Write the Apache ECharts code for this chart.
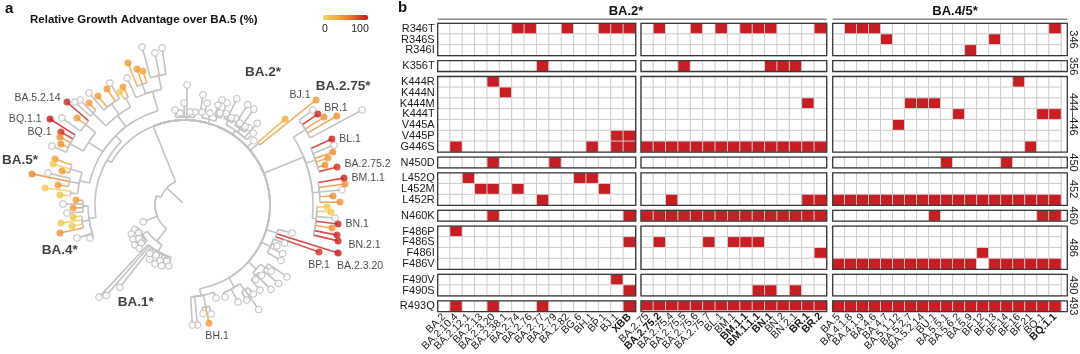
<!DOCTYPE html>
<html><head><meta charset="utf-8">
<script src="https://cdn.jsdelivr.net/npm/echarts@6/dist/echarts.min.js"></script>
<style>html,body{margin:0;padding:0;background:#fff}#c{width:1080px;height:354px}</style>
</head><body><div id="c"></div>
<script>
(function () {
const FONT = '"Liberation Sans", Arial, Helvetica, sans-serif';

// ================= Panel a : tree =================
// clades: [id, parent, angle(deg, ccw from east), radius]
const treeClades = [
  ['root', null, 137, 3],
  ['p1', 'root', 137, 25],
  ['ba2all', 'p1', 112, 85],
  ['p3', 'p1', 162, 30],
  ['ba1', 'p3', 232, 46],
  ['ba1a', 'ba1', 215, 52],
  ['ba1b', 'ba1', 240, 54],
  ['ba45', 'ba2all', 150, 90],
  ['ba5', 'ba45', 135, 98],
  ['ba4', 'ba45', 188, 97],
  ['a', 'ba5', 106, 118], ['a1', 'a', 101.5, 132], ['a2', 'a', 109.5, 128],
  ['b', 'ba5', 127, 112], ['b2', 'b', 119, 122], ['b1', 'b', 126, 125], ['b3', 'b', 135, 130],
  ['c', 'ba5', 147, 115], ['c1', 'c', 141, 128], ['c2', 'c', 152, 130],
  ['d', 'ba5', 167, 108], ['d1', 'd', 162.5, 120], ['d2', 'd', 168.5, 118], ['d3', 'd', 174, 115],
  ['e1', 'ba4', 180.5, 102], ['e2', 'ba4', 189, 104],
  ['t1', 'ba2all', 89, 88], ['t2', 'ba2all', 74, 89], ['t2a', 't2', 79, 95], ['t2b', 't2', 70, 94],
  ['t3', 'ba2all', 56, 90], ['t3a', 't3', 63, 95], ['t3b', 't3', 54, 94],
  ['xbb', 'ba2all', 40, 96],
  ['ba275', 'ba2all', 22, 128],
  ['s1', 'ba275', 32, 142], ['s2', 'ba275', 19, 138], ['s3', 'ba275', 5.5, 135], ['s4', 'ba275', -6, 132],
  ['bp', 'ba2all', -17, 96],
  ['q1', 'ba2all', -26, 95], ['q2', 'ba2all', -42, 96], ['q2a', 'q2', -38, 102], ['q2b', 'q2', -45, 100],
  ['q3', 'ba2all', -59, 96], ['q3a', 'q3', -55, 104],
  ['q4', 'ba2all', -80, 92], ['q4a', 'q4', -78.5, 104]
];
// tips: [parent, angle, radius, growth advantage (%) or null, label]
const treeTips = [
  ['p3', 202, 45, null],
  ['ba1a', 206, 56, null], ['ba1a', 208.5, 61, null], ['ba1a', 211, 54, null], ['ba1a', 213.5, 62, null],
  ['ba1a', 216, 57, null], ['ba1a', 218.5, 64, null], ['ba1a', 221, 58, null], ['ba1a', 223.5, 63, null],
  ['ba1b', 227, 126, null], ['ba1b', 229, 120, null], ['ba1b', 231.6, 105, null], ['ba1b', 234, 60, null],
  ['ba1b', 237, 65, null], ['ba1b', 240, 58, null], ['ba1b', 243, 66, null], ['ba1b', 246, 61, null],
  ['ba1b', 249, 65, null], ['ba1b', 252, 59, null], ['ba1b', 255, 63, null],
  ['a1', 98.3, 158.7, null], ['a1', 101.2, 155, null], ['a1', 105.2, 163.7, null],
  ['a2', 107.4, 140.4, 35], ['a2', 109.4, 144.2, 40], ['a2', 111.9, 153, 40],
  ['a', 114.5, 139.6, null],
  ['b2', 117.7, 133.3, 40], ['b2', 119.9, 130.4, 8],
  ['b1', 121.6, 143.2, null], ['b1', 123.9, 139.8, 40], ['b1', 128.6, 139.5, 40], ['b1', 130.6, 147.5, null],
  ['b3', 133.3, 140, 40], ['b3', 135, 148.5, null], ['b3', 136.9, 150.7, null],
  ['c1', 138.9, 156.6, 95, 'BA.5.2.14'], ['c1', 141.1, 138.7, 40], ['c1', 144.7, 150.7, null],
  ['c2', 147.5, 160, 100, 'BQ.1.1'], ['c2', 149.5, 143.9, 90, 'BQ.1'], ['c2', 151.5, 142.3, 45],
  ['c2', 153.8, 138.2, 45], ['c2', 156.1, 145.5, null],
  ['d1', 160.5, 137.9, 40], ['d1', 162.7, 138.2, 10], ['d1', 164.5, 127.6, 40],
  ['d2', 166.9, 140.7, null], ['d2', 168.5, 156.1, 50], ['d2', 171, 128.6, 40],
  ['d3', 173.1, 141, 10], ['d3', 175.4, 125.4, 10],
  ['e1', 177.4, 109.1, 40], ['e1', 179.5, 122, null], ['e1', 181.5, 112, 40], ['e1', 183.9, 118.3, null],
  ['e2', 186.1, 112.6, 10], ['e2', 188.3, 125.3, 10], ['e2', 190.5, 114.9, 10], ['e2', 192.6, 128.1, 45],
  ['ba4', 197, 112.9, null], ['ba4', 199.2, 100.6, null],
  ['t1', 83.9, 93.5, null], ['t1', 86.9, 93.1, null], ['t1', 89, 120, null], ['t1', 90.5, 102, null],
  ['t1', 93.1, 92.1, null], ['t1', 96, 95.5, null],
  ['t2a', 77.8, 104.3, null], ['t2a', 79.6, 94.5, null], ['t2a', 80.7, 111.5, null],
  ['t2', 74.8, 95.3, null],
  ['t2b', 67.6, 110.3, null], ['t2b', 69.2, 98.4, null], ['t2b', 70.6, 111.3, null], ['t2b', 71.7, 105.3, null],
  ['t3a', 59.8, 100.3, null], ['t3a', 62, 98.8, null], ['t3a', 64, 118.2, null], ['t3a', 65.8, 100.3, null],
  ['t3b', 50.5, 100.3, null], ['t3b', 52.5, 98.8, null], ['t3b', 54.3, 117.9, null], ['t3b', 56.2, 98.5, null], ['t3b', 58, 118.3, null],
  ['t3', 48.5, 109.1, null], ['t3', 46.5, 99, null],
  ['ba2all', 43, 94.2, null],
  ['xbb', 40.7, 132, 30], ['xbb', 38.7, 168, 40, 'BJ.1'],
  ['s1', 28.2, 201, null], ['s1', 30.4, 176, 45], ['s1', 32.3, 164.5, 45], ['s1', 34.4, 161, 95, 'BR.1'], ['s1', 36.6, 159, null],
  ['s2', 14, 156.7, 90, 'BA.2.75.2'], ['s2', 15.9, 145.6, 45], ['s2', 18.2, 150.5, 40], ['s2', 19.7, 157, 45],
  ['s2', 21.9, 160.6, null], ['s2', 24.2, 161, 95, 'BL.1'],
  ['s3', 1.1, 155, 45], ['s3', 3.5, 148.3, 45], ['s3', 5.5, 157.7, null], ['s3', 7.5, 161.4, 45], ['s3', 9.6, 161.3, 95, 'BM.1.1'],
  ['s4', -13.2, 157.2, 95, 'BN.2.1'], ['s4', -11.2, 155, 95], ['s4', -8.9, 148.8, 45], ['s4', -7.1, 154.2, 95, 'BN.1'],
  ['s4', -5, 150.6, null], ['s4', -2.7, 146.2, 10], ['s4', -0.8, 142, 10],
  ['bp', -14.7, 110.6, null], ['bp', -17.4, 160.4, 100, 'BA.2.3.20'], ['bp', -19.3, 142, 90, 'BP.1'],
  ['q1', -21, 106.6, null], ['q1', -24, 100.6, null], ['q1', -26.5, 109, null], ['q1', -30, 110.8, null],
  ['q2a', -35.2, 124.8, null], ['q2a', -37.5, 108.6, null], ['q2a', -40, 122, null],
  ['q2b', -42.5, 104, null], ['q2b', -44.5, 120.3, null], ['q2b', -46.5, 102.6, null], ['q2b', -48.6, 113.4, null],
  ['q3a', -52.5, 112.2, null], ['q3a', -54.8, 127.9, null], ['q3a', -57, 113.4, null],
  ['q3', -61.3, 110.5, null], ['q3', -66.5, 100.3, null],
  ['q4', -71.5, 98, null],
  ['q4a', -76.5, 112, null], ['q4a', -78.5, 120.6, 40, 'BH.1'], ['q4a', -80.5, 110, null],
  ['q4', -84, 120.7, null], ['q4', -86.5, 120.3, null]
];
// clade names: [text, angle, radius]
const cladeLabels = [
  ['BA.5*', 164.8, 171], ['BA.4*', 199.8, 133], ['BA.1*', 243.2, 109],
  ['BA.2*', 59.6, 154], ['BA.2.75*', 37, 198]
];
const colorScaleTicks = ['0', '100'];

// ================= Panel b : mutation heatmap =================
const lineagesBA2 = ['BA.2','BA.2.10.4','BA.2.12.1','BA.2.13','BA.2.3.20','BA.2.38.1','BA.2.74','BA.2.76','BA.2.77','BA.2.79','BA.2.82','BG.6','BH.1','BP.1','BJ.1','XBB'];
const lineagesBA275 = ['BA.2.75','BA.2.75.2','BA.2.75.4','BA.2.75.5','BA.2.75.6','BA.2.75.7','BL.1','BM.1','BM.1.1','BM.1.1.1','BN.1','BN.2','BN.2.1','BR.1','BR.2'];
const lineagesBA45 = ['BA.5','BA.4.1.8','BA.4.1.9','BA.4.6','BA.4.7','BA.5.1.12','BA.5.2.7','BA.5.2.14','BU.1','BA.5.5.1','BA.5.6.2','BA.5.9','BF.12','BF.13','BF.14','BF.16','BF.21','BQ.1','BQ.1.1'];
const boldLineages = ['XBB','BA.2.75.2','BM.1.1','BM.1.1.1','BN.1','BR.1','BR.2','BQ.1.1'];
const mutationGroups = [
  ['346', ['R346T','R346S','R346I']],
  ['356', ['K356T']],
  ['444–446', ['K444R','K444N','K444M','K444T','V445A','V445P','G446S']],
  ['450', ['N450D']],
  ['452', ['L452Q','L452M','L452R']],
  ['460', ['N460K']],
  ['486', ['F486P','F486S','F486I','F486V']],
  ['490', ['F490V','F490S']],
  ['493', ['R493Q']]
];
// one string per mutation row (in the order above), one digit per lineage
const presenceBA2 = [
  '0000001100100111','0000000000000000','0000000000000000',
  '0000000010000000',
  '0000100000000000','0000010000000000','0000000000000000','0000000000000000','0000000000000000','0000000000000011','0100000000001011',
  '0000100001000000',
  '0010000000011000','0001101000000100','0000000010000000',
  '0000100000000001',
  '0100000000000000','0000000000000001','0000000000000000','0000000000000000',
  '0000000000000010','0000000000000001',
  '0100100010000001'
];
const presenceBA275 = [
  '010010101110001','000000000000000','000000000000000',
  '000100000011100',
  '000000000000000','000000000000000','000000000000010','000000000000000','000000000000000','000000000000000','111111111111111',
  '000000000000000',
  '000000000000000','000000000000000','001000000000011',
  '111111111111111',
  '000000000000000','010001011100000','000000000000001','000000000000000',
  '000000000000000','000000000110100',
  '111111111111111'
];
const presenceBA45 = [
  '0111000000000000001','0000100000000100000','0000000000010000000',
  '0000000000000000000',
  '0000000000000001000','0000000000000000000','0000001110000000000','0000000000100000011','0000010000000000000','0000000000000000000','0000000000000000100',
  '0000000001000010000',
  '0000000000000000000','0000000000000000000','1111111111111111111',
  '0000000010000000011',
  '0000000000000000000','0000000000000000000','0000000000001000000','1111111111110111111',
  '0000000000000000000','0000000000000000000',
  '1111111111111111111'
];

// ================= build =================
const GRAY = '#c3c3c3';
const RED = '#c81d22';
const norm = a => ((a % 360) + 360) % 360;
const nodeById = {};
treeClades.forEach(([id, parent, a, r]) => { nodeById[id] = { id, parent, a, r }; });
const edges = [];
treeClades.forEach(([id, parent, a, r]) => {
  if (parent) { const p = nodeById[parent]; edges.push({ r, a, pr: p.r, pa: p.a, g: null }); }
});
treeTips.forEach(([parent, a, r, g]) => {
  const p = nodeById[parent]; edges.push({ r, a, pr: p.r, pa: p.a, g });
});

const labelPlacement = {
  'BA.5.2.14': { position: 'left', distance: 3, offset: [0, -4] },
  'BQ.1.1': { position: 'left', distance: 5 },
  'BQ.1': { position: 'left', distance: 6 },
  'BJ.1': { position: 'left', distance: 2, offset: [0, -5] },
  'BR.1': { position: 'right', distance: 3, offset: [0, -6] },
  'BL.1': { position: 'right', distance: 4 },
  'BA.2.75.2': { position: 'right', distance: 4, offset: [0, -3] },
  'BM.1.1': { position: 'right', distance: 4 },
  'BN.1': { position: 'right', distance: 4 },
  'BN.2.1': { position: 'right', distance: 7, offset: [0, 4] },
  'BP.1': { position: 'bottom', distance: 4 },
  'BA.2.3.20': { position: 'bottom', distance: 4, offset: [22, 0] },
  'BH.1': { position: 'bottom', distance: 4, offset: [8, 0] }
};
function tipItem(t) {
  const [parent, a, r, g, label] = t;
  const item = { value: [r, norm(a), g == null ? '-' : g] };
  if (label) {
    item.label = Object.assign({ show: true, formatter: label, fontSize: 10.5, color: '#1a1a1a' }, labelPlacement[label] || {});
  }
  return item;
}

const series = [];
// 0: branches
series.push({
  type: 'custom', coordinateSystem: 'polar', z: 2, silent: true,
  data: edges.map(e => [e.r, norm(e.a), e.g == null ? '-' : e.g]),
  renderItem: function (params, api) {
    const e = edges[params.dataIndex];
    const c = api.coord([0, 0]);
    const p0 = api.coord([e.pr, norm(e.a)]);
    const p1 = api.coord([e.r, norm(e.a)]);
    const q = api.coord([e.pr, 0]);
    const R = Math.hypot(q[0] - c[0], q[1] - c[1]);
    const col = e.g == null ? GRAY : api.visual('color');
    const children = [{
      type: 'line', shape: { x1: p0[0], y1: p0[1], x2: p1[0], y2: p1[1] },
      style: { stroke: col, lineWidth: 1.6, opacity: e.g == null ? 1 : 0.8 }
    }];
    if (Math.abs(e.a - e.pa) > 0.01) {
      const lo = Math.min(e.a, e.pa), hi = Math.max(e.a, e.pa);
      children.push({
        type: 'arc',
        shape: { cx: c[0], cy: c[1], r: R, startAngle: -hi * Math.PI / 180, endAngle: -lo * Math.PI / 180, clockwise: true },
        style: { stroke: GRAY, fill: 'none', lineWidth: 1.6 }
      });
    }
    return { type: 'group', children };
  }
});
// 1: grey tips (no estimate)
series.push({
  type: 'scatter', coordinateSystem: 'polar', z: 3, silent: true, symbolSize: 6.5,
  itemStyle: { color: '#fff', borderColor: '#b9b9b9', borderWidth: 1.2 },
  data: treeTips.filter(t => t[3] == null).map(tipItem)
});
// 2: coloured tips
series.push({
  type: 'scatter', coordinateSystem: 'polar', z: 4, silent: true, symbolSize: 7,
  data: treeTips.filter(t => t[3] != null).map(tipItem)
});
// 3: clade names
series.push({
  type: 'scatter', coordinateSystem: 'polar', z: 5, silent: true, symbolSize: 0,
  data: cladeLabels.map(([t, a, r]) => ({ value: [r, norm(a)], name: t })),
  label: { show: true, position: 'inside', formatter: '{b}', fontSize: 13.5, fontWeight: 'bold', color: '#111' }
});

// heatmap grids
const blocks = [lineagesBA2, lineagesBA275, lineagesBA45];
const presence = [presenceBA2, presenceBA275, presenceBA45];
const BLOCK_LEFT = [437.7, 641, 832.7], BLOCK_W = [198, 185.7, 234.6];
const ROW_TOP0 = 23.3, ROW_H = 10.8, GROUP_GAP = 5;
const grids = [], xAxes = [], yAxes = [], boxes = [], heatIdx = [];
let rowOffset = 0, gTop = ROW_TOP0;
mutationGroups.forEach(([gLabel, rows], g) => {
  const h = rows.length * ROW_H;
  const last = g === mutationGroups.length - 1;
  blocks.forEach((lins, b) => {
    const gi = grids.length;
    grids.push({ left: BLOCK_LEFT[b], top: gTop, width: BLOCK_W[b], height: h, containLabel: false });
    xAxes.push({
      type: 'category', gridIndex: gi,
      data: lins.map(l => boldLineages.includes(l) ? { value: l, textStyle: { fontWeight: 'bold' } } : l),
      axisLine: { show: false }, axisTick: { show: false }, splitLine: { show: false },
      axisLabel: { show: last, rotate: 45, interval: 0, fontSize: 10.5, margin: 4, color: '#1a1a1a' }
    });
    yAxes.push({
      type: 'category', gridIndex: gi, data: rows, inverse: true,
      position: b === 2 ? 'right' : 'left',
      axisLine: { show: false }, axisTick: { show: false }, splitLine: { show: false },
      axisLabel: { show: b === 0, interval: 0, fontSize: 11, margin: 3, color: '#1a1a1a', hideOverlap: false },
      name: b === 2 ? gLabel : '', nameLocation: 'middle', nameRotate: -90, nameGap: 7,
      nameTextStyle: { fontSize: 11, color: '#1a1a1a' }
    });
    const data = [];
    rows.forEach((m, ri) => {
      const s = presence[b][rowOffset + ri];
      lins.forEach((l, ci) => data.push([ci, ri, +s[ci]]));
    });
    heatIdx.push(series.length);
    series.push({
      type: 'heatmap', xAxisIndex: gi, yAxisIndex: gi, data, silent: true,
      itemStyle: { borderColor: '#cdcdcd', borderWidth: 1 }
    });
    boxes.push({
      type: 'rect', silent: true, z: 100,
      shape: { x: BLOCK_LEFT[b], y: gTop, width: BLOCK_W[b], height: h },
      style: { fill: 'none', stroke: '#3a3a3a', lineWidth: 1.3 }
    });
  });
  rowOffset += rows.length;
  gTop += h + GROUP_GAP;
});

const txt = (text, x, y, opt) => ({
  type: 'text', silent: true, z: 100,
  style: Object.assign({ text, x, y, fill: '#111', fontFamily: FONT, fontSize: 11, align: 'left', verticalAlign: 'middle' }, opt || {})
});

const graphic = [
  txt('a', 5, 9, { fontSize: 15, fontWeight: 'bold' }),
  txt('Relative Growth Advantage over BA.5 (%)', 30, 20, { fontSize: 11.5, fontWeight: 'bold' }),
  txt(colorScaleTicks[0], 325, 29.5, { fontSize: 10.5, align: 'center', fill: '#222' }),
  txt(colorScaleTicks[1], 360, 29.5, { fontSize: 10.5, align: 'center', fill: '#222' }),
  txt('b', 398, 8, { fontSize: 15, fontWeight: 'bold' }),
  txt('BA.2*', 626, 11, { fontSize: 13, fontWeight: 'bold', align: 'center' }),
  txt('BA.4/5*', 955, 11, { fontSize: 13, fontWeight: 'bold', align: 'center' }),
  { type: 'line', silent: true, shape: { x1: 437.7, y1: 19.3, x2: 826.7, y2: 19.3 }, style: { stroke: '#8a8a8a', lineWidth: 1.5 } },
  { type: 'line', silent: true, shape: { x1: 832.7, y1: 19.3, x2: 1067.3, y2: 19.3 }, style: { stroke: '#8a8a8a', lineWidth: 1.5 } }
].concat(boxes);

const option = {
  animation: false,
  backgroundColor: '#fff',
  textStyle: { fontFamily: FONT },
  polar: { center: [185, 205], radius: 220 },
  angleAxis: { type: 'value', min: 0, max: 360, startAngle: 0, clockwise: false, show: false },
  radiusAxis: { type: 'value', min: 0, max: 220, show: false },
  grid: grids, xAxis: xAxes, yAxis: yAxes,
  visualMap: [
    {
      type: 'continuous', min: 0, max: 100, dimension: 2, seriesIndex: [0, 2],
      orient: 'horizontal', left: 323, top: 15, itemWidth: 5, itemHeight: 45,
      calculable: false, padding: 0, hoverLink: false,
      inRange: { color: ['#f2d65c', '#f3a83b', '#e8652d', '#c8161d'] }
    },
    {
      type: 'piecewise', show: false, dimension: 2, seriesIndex: heatIdx,
      pieces: [{ value: 0, color: '#ffffff' }, { value: 1, color: RED }]
    }
  ],
  graphic: graphic,
  series: series
};
const chart = echarts.init(document.getElementById('c'));
chart.setOption(option);
})();
</script>
</body></html>
